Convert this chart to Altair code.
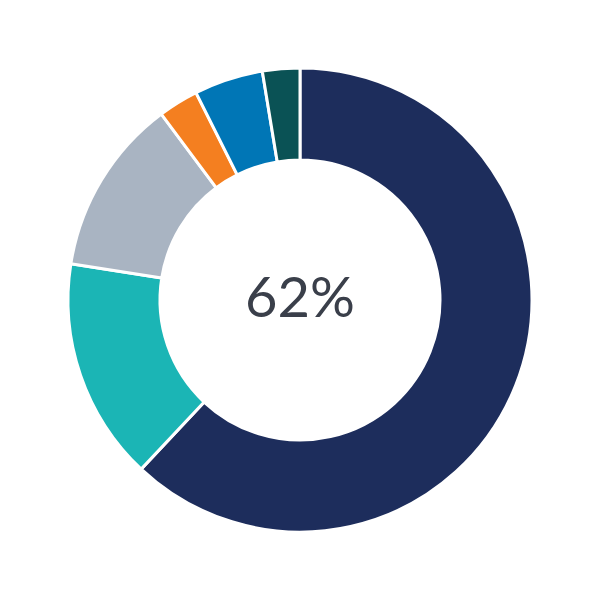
import altair as alt
import pandas as pd

segments = ["A", "B", "C", "D", "E", "F"]
shares = [62.0, 15.5, 12.3, 2.8, 4.8, 2.6]
colors = ["#1d2d5c", "#1bb5b5", "#a9b4c2", "#f47f20", "#0076b6", "#0a5255"]
center_label = ["62%"]

df = pd.DataFrame({"segment": segments, "share": shares, "idx": list(range(len(segments)))})

donut = alt.Chart(df).mark_arc(
    innerRadius=140, outerRadius=232, stroke="white", strokeWidth=3
).encode(
    theta=alt.Theta("share:Q", stack=True),
    order=alt.Order("idx:O"),
    color=alt.Color("segment:N", scale=alt.Scale(domain=segments, range=colors), legend=None),
)

label = alt.Chart(pd.DataFrame({"t": center_label})).mark_text(
    font="Lato", fontWeight=400, fontSize=56, color="#3a3f4a", baseline="middle", align="center"
).encode(
    text="t:N",
    x=alt.value(292),
    y=alt.value(292),
)

chart = (donut + label).properties(
    width=584, height=584, padding=0, autosize="none"
).configure_view(stroke=None)

chart.save("out.html", embed_options={"renderer": "svg", "actions": False})
